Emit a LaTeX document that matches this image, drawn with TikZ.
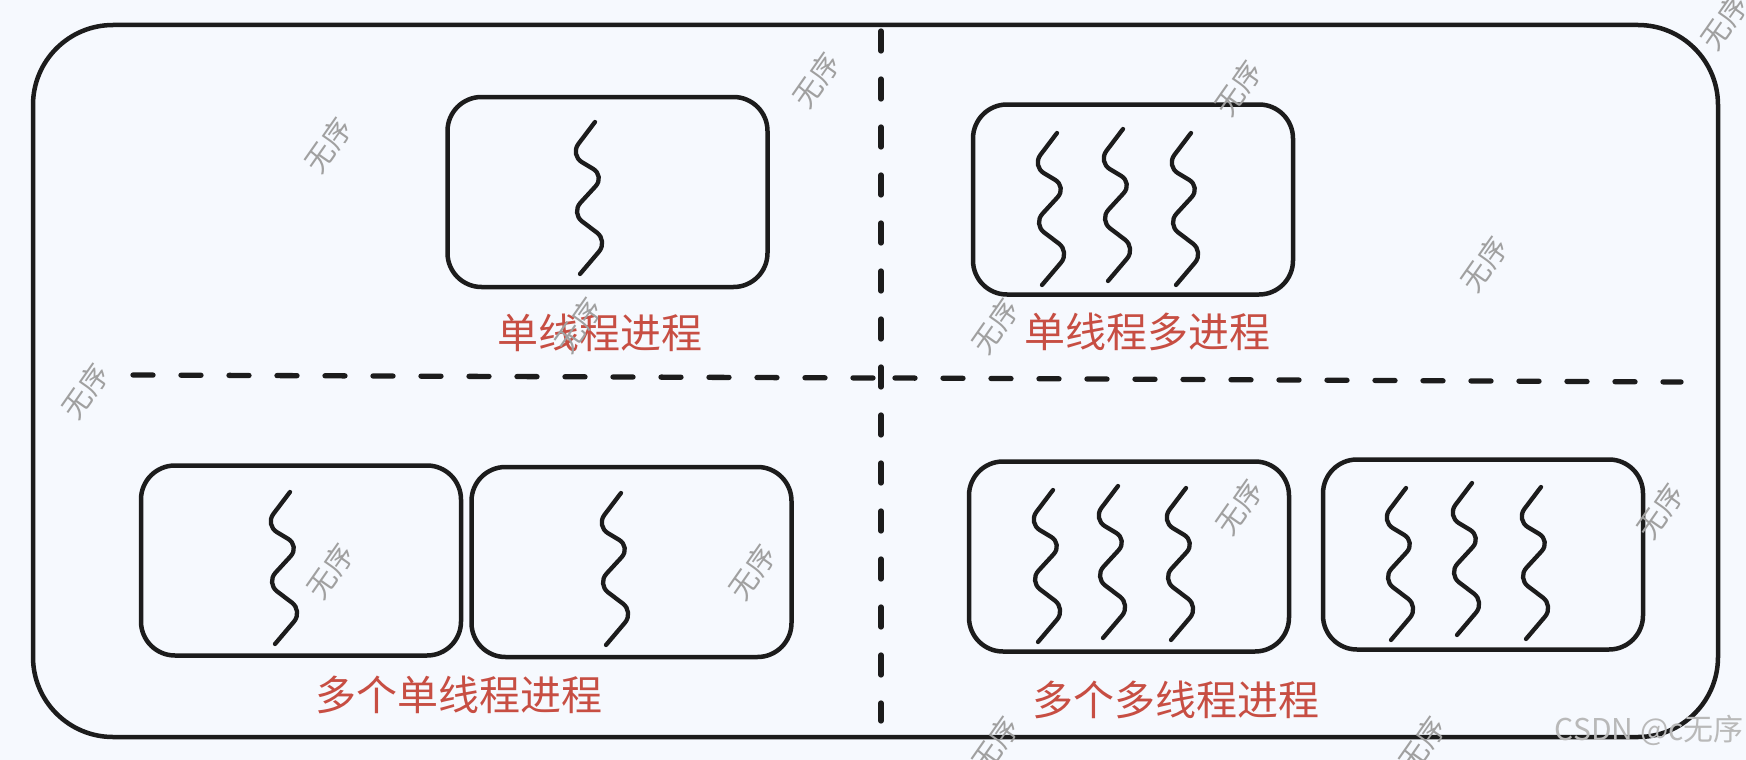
\documentclass[tikz,border=0pt]{standalone}
\usepackage{fontspec}
\newfontfamily\cjk{Noto Sans CJK SC}
\definecolor{bg}{RGB}{246,249,254}
\definecolor{lbl}{RGB}{199,78,67}
\definecolor{ink}{RGB}{28,28,28}
\definecolor{wm}{RGB}{160,160,160}
\newcommand\thread[1]{\draw[thr] (#1) -- ++(-25,33) -- ++(35,21) -- ++(-34,37) -- ++(37,28) -- ++(-28,33);}
\begin{document}
\begin{tikzpicture}[x=1pt,y=-1pt,
  proc/.style={draw=ink,line width=4.5pt,rounded corners=34pt,inner sep=0pt,minimum width=320pt,minimum height=190pt},
  lab/.style={text=lbl,font=\cjk\fontsize{41}{41}\selectfont,inner sep=0pt},
  wmk/.style={text=wm,font=\cjk\fontsize{29}{29}\selectfont,rotate=55,inner sep=0pt},
  thr/.style={draw=ink,line width=4.3pt,line cap=round,line join=round,rounded corners=14pt},
  sep/.style={draw=ink,line width=5.3pt,line cap=round,dash pattern=on 20pt off 28pt}]
\useasboundingbox[fill=bg] (0,0) rectangle (1746,760);
% outer frame
\draw[ink,line width=4.5pt,rounded corners=80pt] (33,25) rectangle (1718,737);
% separators
\draw[sep] (881,31) -- (881,721);
\draw[sep] (133,375) -- (873,378);
\draw[sep] (895,378) -- (1681,382);
% process boxes
\node[proc] (A)  at (607.5,192) {};
\node[proc] (B)  at (1133,199.5) {};
\node[proc] (C1) at (301,560.5) {};
\node[proc] (C2) at (631.5,562) {};
\node[proc] (D1) at (1129,556.5) {};
\node[proc] (D2) at (1483,554.5) {};
% threads
\thread{595,122}
\thread{1057,133}\thread{1123,129}\thread{1191,133}
\thread{290,492}
\thread{621,493}
\thread{1053,490}\thread{1118,486}\thread{1186,488}
\thread{1406,488}\thread{1472,483}\thread{1541,487}
% labels
\node[lab] (l1) at (600,333) {单线程进程};
\node[lab] (l2) at (1147,332) {单线程多进程};
\node[lab] (l3) at (459,695) {多个单线程进程};
\node[lab] (l4) at (1176,700) {多个多线程进程};
% watermarks
\node[wmk] (w1) at (328,145) {无序};
\node[wmk] (w2) at (816,80) {无序};
\node[wmk] (w3) at (1238,88) {无序};
\node[wmk] (w4) at (1724,22) {无序};
\node[wmk] (w5) at (1484,264) {无序};
\node[wmk] (w6) at (578,325) {无序};
\node[wmk] (w7) at (995,326) {无序};
\node[wmk] (w8) at (85,391) {无序};
\node[wmk] (w9) at (330,571) {无序};
\node[wmk] (w10) at (752,572) {无序};
\node[wmk] (w11) at (1239,507) {无序};
\node[wmk] (w12) at (1660,511) {无序};
\node[wmk] (w13) at (995,744) {无序};
\node[wmk] (w14) at (1422,744) {无序};
\node[text=gray!55,font=\cjk\fontsize{30}{30}\selectfont,inner sep=0pt,anchor=east] (csdn) at (1744,730) {CSDN @c无序};
\end{tikzpicture}
\end{document}
